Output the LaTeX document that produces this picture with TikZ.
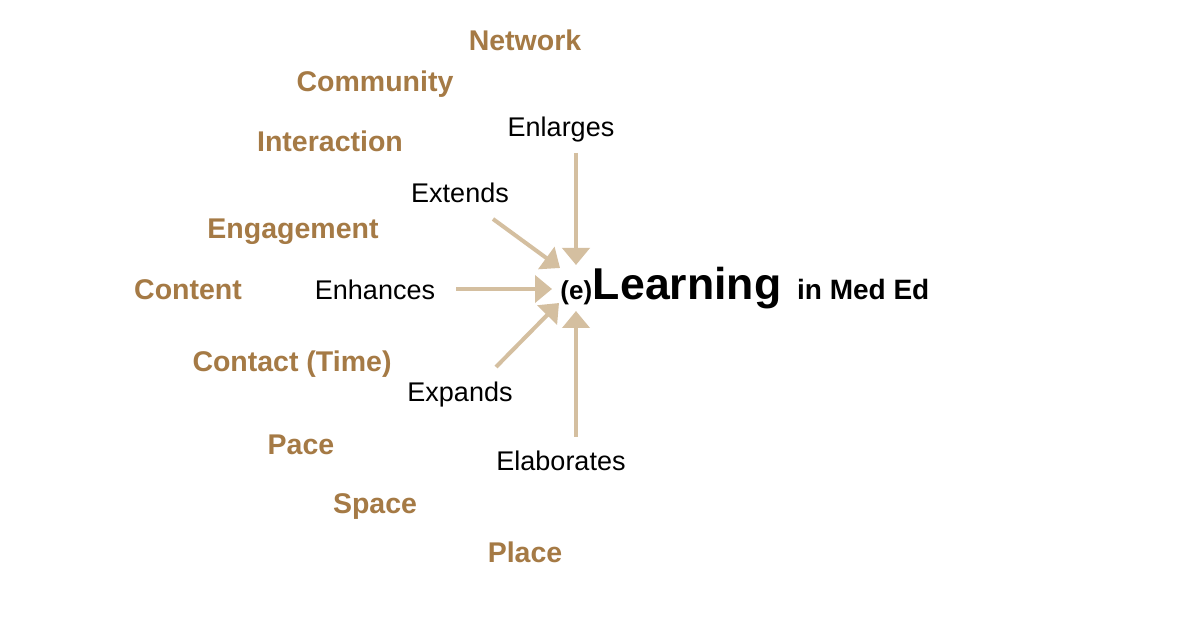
\documentclass[tikz,border=0pt]{standalone}
\usepackage{fontspec}
\setmainfont{Liberation Sans}
\usetikzlibrary{arrows.meta}
\definecolor{brownw}{HTML}{A57A45}
\definecolor{tanarrow}{HTML}{D4BFA0}
\begin{document}
\begin{tikzpicture}[x=0.5pt,y=-0.5pt,
  bw/.style={font=\fontsize{14.25}{17}\selectfont\bfseries, text=brownw, inner sep=0, anchor=base},
  vb/.style={font=\fontsize{13.5}{16}\selectfont, inner sep=0, anchor=base},
  arr/.style={draw=tanarrow, line width=2pt, -{Triangle[width=13.5pt,length=8.5pt]}}]
\useasboundingbox[fill=white] (0,0) rectangle (1200,630);
% brown words
\node[bw] (network) at (525,51) {Network};
\node[bw] (community) at (375,92) {Community};
\node[bw] (interaction) at (330,152) {Interaction};
\node[bw] (engagement) at (293,239) {Engagement};
\node[bw] (content) at (188,300) {Content};
\node[bw] (contact) at (292,372) {Contact (Time)};
\node[bw] (pace) at (301,455) {Pace};
\node[bw] (space) at (375,514) {Space};
\node[bw] (place) at (525,562) {Place};
% verbs
\node[vb] (enlarges) at (561,137) {Enlarges};
\node[vb] (extends) at (460,203) {Extends};
\node[vb] (enhances) at (375,300) {Enhances};
\node[vb] (expands) at (460,402) {Expands};
\node[vb] (elaborates) at (561,471) {Elaborates};
% title
\node[inner sep=0, anchor=base west, font=\fontsize{13}{15}\selectfont\bfseries] (e) at (560,300) {(e)};
\node[inner sep=0, anchor=base west, font=\fontsize{22.3}{26}\selectfont\bfseries] (learning) at (e.base east) {Learning};
\node[inner sep=0, anchor=base west, font=\fontsize{14}{17}\selectfont\bfseries] (meded) at ([xshift=7.5pt]learning.base east) {in Med Ed};
% arrow tails and tips
\coordinate (t1) at (576,153);  \coordinate (h1) at (576,265);
\coordinate (t2) at (493,219);  \coordinate (h2) at (560,268);
\coordinate (t3) at (456,289);  \coordinate (h3) at (552,289);
\coordinate (t4) at (496,367);  \coordinate (h4) at (559,303);
\coordinate (t5) at (576,437);  \coordinate (h5) at (576,311);
\draw[arr] (t1) -- (h1);
\draw[arr] (t2) -- (h2);
\draw[arr] (t3) -- (h3);
\draw[arr] (t4) -- (h4);
\draw[arr] (t5) -- (h5);
\end{tikzpicture}
\end{document}
